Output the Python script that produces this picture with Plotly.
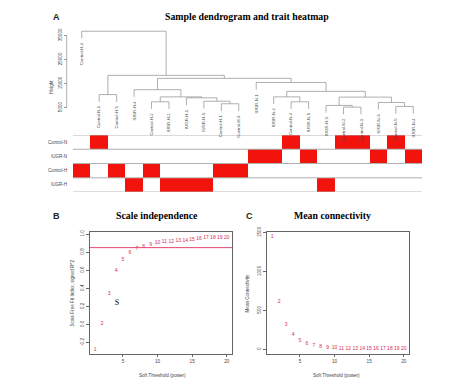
import plotly.graph_objects as go

# ---------------- data ----------------
leaf_labels = ["Control-H-4", "Control-N-1", "Control-H-5", "IUGR-H-4", "Control-H-2",
               "IUGR-H-2", "IUGR-H-1", "IUGR-H-5", "Control-H-1", "Control-H-3",
               "IUGR-N-1", "IUGR-N-2", "Control-N-4", "IUGR-N-5", "IUGR-H-3",
               "Control-N-2", "Control-N-3", "IUGR-N-3", "Control-N-5", "IUGR-N-4"]
# R-style merge table: negative = leaf (1-based position in order), positive = earlier merge
merge_left = [-16, -19, -15, -9, -18, -5, -13, -8, -7, 3, 6, -12, -2, 12, -4, -11, 15, 13, -1]
merge_right = [-17, -20, 1, -10, 2, -6, -14, 4, 8, 5, 9, 7, -3, 10, 11, 14, 16, 17, 18]
merge_height = [5250, 5530, 5940, 6640, 7170, 7460, 7460, 7700, 9100, 9400, 9500, 9500,
                10450, 11800, 12500, 15500, 17200, 18450, 36800]
hang = 3000
height_ticks = [5000, 15000, 25000, 35000]

trait_rows = ["Control-N", "IUGR-N", "Control-H", "IUGR-H"]

power = list(range(1, 21))
sft_r2 = [-0.276, 0.014, 0.336, 0.597, 0.72, 0.79, 0.834, 0.859, 0.88, 0.899,
          0.91, 0.917, 0.924, 0.928, 0.935, 0.95, 0.956, 0.96, 0.964, 0.964]
r2_cutoff = 0.85
mean_k = [1445, 617, 319, 185, 113, 76, 50, 38, 25, 16,
          13, 10, 8, 7, 6, 5, 4, 4, 3, 3]
r2_ticks = [-0.2, 0.0, 0.2, 0.4, 0.6, 0.8, 1.0]
k_ticks = [0, 500, 1000, 1500]
power_ticks = [5, 10, 15, 20]
mark_text = "S"
mark_x = [4.14]
mark_y = [0.235]

# ---------------- helpers ----------------
W, H = 474, 387
def px(x):
    return x / W
def py(y):
    return 1 - y / H

SANS = "Liberation Sans"
SERIF = "Liberation Serif"
GRAY = "#9a9a9a"
TXT = "#444444"
RED_TXT = "#d42a55"

# ---------------- dendrogram geometry ----------------
n = len(leaf_labels)
cx = []
leaf_end = [None] * n
seg_x, seg_y = [], []
for i, (a, b, h) in enumerate(zip(merge_left, merge_right, merge_height)):
    pts = []
    for ref in (a, b):
        if ref < 0:
            xi = -ref - 1
            top = h - hang
            leaf_end[xi] = top
        else:
            xi = cx[ref - 1]
            top = merge_height[ref - 1]
        pts.append((xi, top))
    (xl, tl), (xr, tr) = pts
    seg_x += [xl, xl, xr, xr, None]
    seg_y += [tl, h, h, tr, None]
    cx.append((xl + xr) / 2)

z = [[1 if lab.rsplit("-", 1)[0] == row else 0 for lab in leaf_labels] for row in trait_rows]

fig = go.Figure()
fig.add_trace(go.Scatter(x=seg_x, y=seg_y, mode="lines",
                         line=dict(color=GRAY, width=0.8), xaxis="x", yaxis="y",
                         hoverinfo="skip"))
fig.add_trace(go.Heatmap(z=z, x=list(range(n)), y=list(range(len(trait_rows))),
                         colorscale=[[0, "white"], [1, "#f2140c"]], zmin=0, zmax=1,
                         showscale=False, xaxis="x2", yaxis="y2"))
fig.add_trace(go.Scatter(x=power, y=sft_r2, mode="text", text=[str(p) for p in power],
                         textfont=dict(family=SANS, size=5, color=RED_TXT),
                         xaxis="x3", yaxis="y3", cliponaxis=False))
fig.add_trace(go.Scatter(x=mark_x, y=mark_y, mode="text", text=[mark_text],
                         textfont=dict(family=SERIF, size=8, color="black"),
                         xaxis="x3", yaxis="y3", cliponaxis=False))
fig.add_trace(go.Scatter(x=power, y=mean_k, mode="text", text=[str(p) for p in power],
                         textfont=dict(family=SANS, size=5, color=RED_TXT),
                         xaxis="x4", yaxis="y4", cliponaxis=False))

tickfont = dict(family=SANS, size=4.6, color=TXT)
box = dict(showline=True, mirror=True, linecolor="#666666", linewidth=0.8,
           ticks="outside", ticklen=3, tickcolor="#666666", tickwidth=0.8,
           showgrid=False, zeroline=False, tickfont=tickfont)

fig.update_layout(
    width=W, height=H, margin=dict(l=0, r=0, t=0, b=0),
    paper_bgcolor="white", plot_bgcolor="white", showlegend=False,
    xaxis=dict(domain=[px(73), px(422)], range=[-0.5, n - 0.5], visible=False, anchor="y"),
    yaxis=dict(domain=[py(112), py(22)], range=[1440, 38280], anchor="free", position=px(66.7),
               tickvals=height_ticks, ticktext=[str(t) for t in height_ticks], tickangle=-90,
               ticks="outside", ticklen=3, tickcolor=GRAY, tickwidth=0.8,
               showline=False, showgrid=False, zeroline=False, tickfont=tickfont),
    xaxis2=dict(domain=[px(73), px(422)], range=[-0.5, n - 0.5], visible=False, anchor="y2"),
    yaxis2=dict(domain=[py(189), py(131)], range=[len(trait_rows) - 0.5, -0.5], visible=False,
                anchor="x2"),
    xaxis3=dict(domain=[px(90), px(232)], range=[0.24, 20.76], tickvals=power_ticks,
                anchor="y3", **box),
    yaxis3=dict(domain=[py(353), py(230)], range=[-0.32, 1.018], tickvals=r2_ticks,
                ticktext=[f"{t:.1f}" for t in r2_ticks], tickangle=-90, anchor="x3", **box),
    xaxis4=dict(domain=[px(267), px(409)], range=[0.24, 20.76], tickvals=power_ticks,
                anchor="y4", **box),
    yaxis4=dict(domain=[py(353), py(230)], range=[-52, 1502], tickvals=k_ticks,
                tickangle=-90, anchor="x4", **box),
)

shapes = []
# dendrogram axis line between first and last tick
shapes.append(dict(type="line", xref="paper", yref="y", x0=px(66.7), x1=px(66.7),
                   y0=min(height_ticks), y1=max(height_ticks), line=dict(color=GRAY, width=0.8)))
# heatmap row separators
for r in range(len(trait_rows) + 1):
    shapes.append(dict(type="line", xref="x2 domain", yref="y2", x0=0, x1=1,
                       y0=r - 0.5, y1=r - 0.5, line=dict(color="#b0b0b0", width=1)))
# scale-free cutoff line
shapes.append(dict(type="line", xref="x3 domain", yref="y3", x0=0, x1=1,
                   y0=r2_cutoff, y1=r2_cutoff, line=dict(color="#e4486e", width=1)))
fig.update_layout(shapes=shapes)

ann = []
for i, lab in enumerate(leaf_labels):
    ann.append(dict(x=i, y=leaf_end[i], xref="x", yref="y", text=lab, textangle=-90,
                    xanchor="center", yanchor="top", yshift=-1.5, showarrow=False,
                    font=dict(family=SANS, size=4.3, color=TXT)))
for r, row in enumerate(trait_rows):
    ann.append(dict(x=px(68.5), y=r, xref="paper", yref="y2", text=row, xanchor="right",
                    yanchor="middle", showarrow=False, font=dict(family=SANS, size=4.5, color=TXT)))

def label(x, y, text, size, family=SANS, angle=0, bold=False, color=TXT):
    t = f"<b>{text}</b>" if bold else text
    return dict(x=px(x), y=py(y), xref="paper", yref="paper", text=t, textangle=angle,
                xanchor="center", yanchor="middle", showarrow=False,
                font=dict(family=family, size=size, color=color))

ann += [
    label(52, 82, "Height", 4.6, angle=-90),
    label(247, 11, "Sample dendrogram and trait heatmap", 9.8, family=SERIF, bold=True, color="black"),
    label(56, 11, "A", 9, bold=True, color="#222222"),
    label(157, 213, "Scale independence", 9.8, family=SERIF, bold=True, color="black"),
    label(56, 213, "B", 9, bold=True, color="#222222"),
    label(332, 213, "Mean connectivity", 9.8, family=SERIF, bold=True, color="black"),
    label(249, 213, "C", 9, bold=True, color="#222222"),
    label(162, 375, "Soft Threshold (power)", 4.6),
    label(72, 292, "Scale Free Fit Index, signed R^2", 4.6, angle=-90),
    label(336, 375, "Soft Threshold (power)", 4.6),
    label(247, 292, "Mean Connectivity", 4.6, angle=-90),
]
fig.update_layout(annotations=ann)

fig.write_html("out.html", config={"displayModeBar": False},
               post_script="document.body.style.margin='0';document.body.style.padding='0';"
                           "document.body.style.overflow='hidden';")
